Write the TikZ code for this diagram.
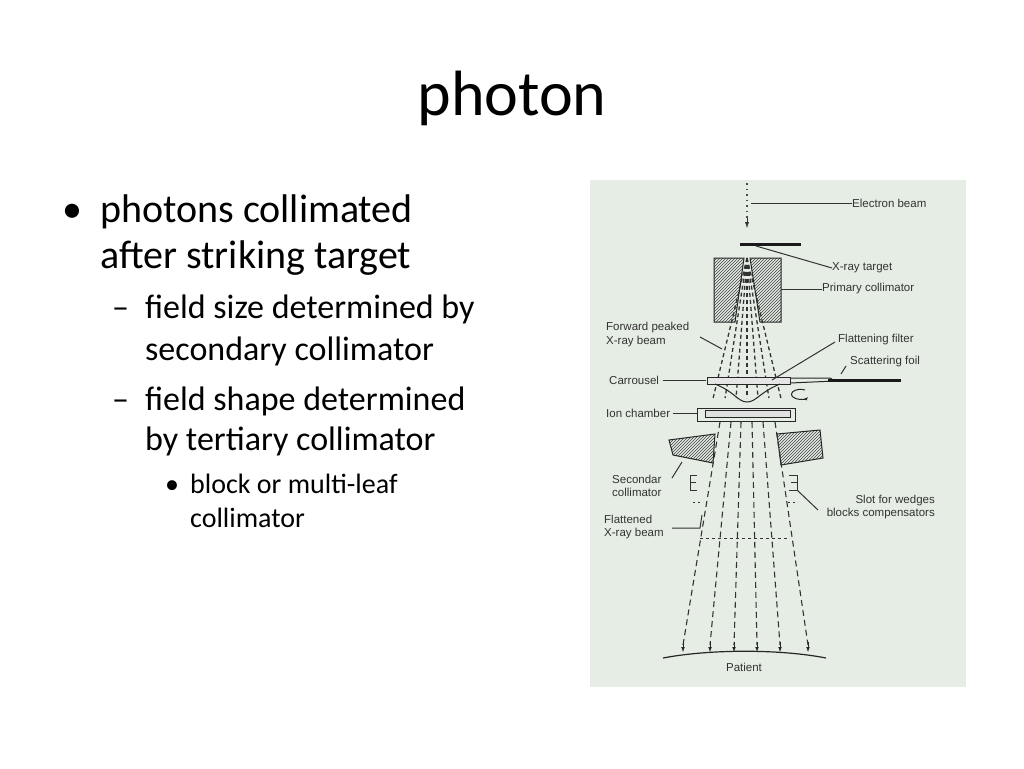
\documentclass[tikz,border=0pt]{standalone}
\usepackage{fontspec}
\setmainfont{Carlito}
\newfontfamily\lab{Liberation Sans}
\usetikzlibrary{patterns,arrows.meta}
\begin{document}
\begin{tikzpicture}[x=1pt,y=-1pt,
  txt/.style={anchor=base west,inner sep=0pt},
  lbl/.style={anchor=west,inner sep=0pt,font=\lab\fontsize{11.5}{13}\selectfont,text=black!80},
  lead/.style={draw=black!80,line width=1pt},
  hatch/.style={draw=black!85,line width=1pt,pattern=north east lines,pattern color=black!75},
  ray/.style={draw=black!80,line width=1.1pt,dash pattern=on 6pt off 4pt},
  tip/.style={-{Latex[length=5pt,width=3.5pt]}}]
\useasboundingbox (0,0) rectangle (1024,768);
\fill[white] (0,0) rectangle (1024,768);
% title
\node[inner sep=0pt,font=\fontsize{64}{70}\selectfont] (title) at (512,98) {photon};
% bullets
\node[txt,font=\fontsize{40}{44}\selectfont] (b0) at (62,222) {•};
\node[txt,font=\fontsize{40}{44}\selectfont] (b1) at (100,222) {photons collimated};
\node[txt,font=\fontsize{40}{44}\selectfont] (b2) at (100,268) {after striking target};
\node[txt,font=\fontsize{34}{38}\selectfont] (s0) at (112,318) {–};
\node[txt,font=\fontsize{34}{38}\selectfont] (s1) at (145,318) {field size determined by};
\node[txt,font=\fontsize{34}{38}\selectfont] (s2) at (145,360) {secondary collimator};
\node[txt,font=\fontsize{34}{38}\selectfont] (t0) at (112,410) {–};
\node[txt,font=\fontsize{34}{38}\selectfont] (t1) at (145,410) {field shape determined};
\node[txt,font=\fontsize{34}{38}\selectfont] (t2) at (145,450) {by tertiary collimator};
\node[txt,font=\fontsize{28}{32}\selectfont] (u0) at (165,493) {•};
\node[txt,font=\fontsize{28}{32}\selectfont] (u1) at (190,493) {block or multi-leaf};
\node[txt,font=\fontsize{28}{32}\selectfont] (u2) at (190,527) {collimator};
% panel
\fill[fill={rgb,255:red,229;green,237;blue,229}] (590,180) rectangle (966,687);
% electron beam
\draw[black!70,line width=1.2pt,dash pattern=on 1.5pt off 4pt] (747,183) -- (747,220);
\draw[black!80,-{Latex[length=6pt,width=4pt]}] (747,218) -- (747,228);
\coordinate (eb) at (751,203);
\node[lbl] (ebl) at (852,203) {Electron beam};
\draw[lead] (eb) -- (ebl.west);
% target
\draw[black!90,line width=3pt] (740,244) -- (801,244);
\coordinate (xt) at (756,246);
\node[lbl] (xtl) at (832,268) {X-ray target};
\draw[lead] (xt) -- (xtl.west);
% primary collimator
\path[hatch] (714,258) -- (744,258) -- (735,322) -- (714,322) -- cycle;
\path[hatch] (750,258) -- (781,258) -- (781,322) -- (760,322) -- cycle;
\coordinate (pc) at (781,289);
\node[lbl] (pcl) at (822,289) {Primary collimator};
\draw[lead] (pc) -- (pcl.west);
% cone of forward peaked rays
\foreach \a in {-14,-9,-4.5,0,4.5,9,14}{
  \draw[ray,line width=1.3pt,dash pattern=on 4pt off 3pt] (747,258) -- ++({-sin(\a)*140},140);
}
% forward peaked label
\node[lbl] (fp1) at (606,328) {Forward peaked};
\node[lbl] (fp2) at (606,342) {X-ray beam};
\coordinate (fp) at (722,349);
\draw[lead] (700,337) -- (fp);
% carrousel
\draw[black!85,line width=1pt,fill=black!10] (707,377) rectangle (790,384);
\draw[black!85,line width=1pt] (790,378) -- (830,378) -- (835,381) -- (790,383);
\draw[black!90,line width=3pt] (828,380) -- (901,380);
\draw[black!85,line width=1pt] (715,384) .. controls (735,392) and (738,402) .. (747,402) .. controls (756,402) and (760,392) .. (780,384);
\node[lbl] (car) at (609,380) {Carrousel};
\coordinate (cr) at (706,380);
\draw[lead] (car.east) ++(4,0) -- (cr);
\node[lbl] (ff) at (838,340) {Flattening filter};
\coordinate (ffp) at (772,380);
\draw[lead] (ff.west) ++(-3,2) -- (ffp);
\node[lbl] (sf) at (850,362) {Scattering foil};
\draw[lead] (sf.west) ++(-4,4) -- ++(-5,8);
% rotation arrow
\draw[black!85,line width=1pt,-{Latex[length=4pt,width=3pt]}] (805,390) arc (60:330:9pt and 5pt);
% ion chamber
\draw[black!85,line width=1pt] (697,408) rectangle (795,421);
\draw[black!85,line width=1pt,fill=black!12] (705,410) rectangle (790,417);
\node[lbl] (ic) at (606,413) {Ion chamber};
\coordinate (icp) at (697,413);
\draw[lead] (ic.east) ++(3,0) -- (icp);
% secondary collimator
\path[hatch] (669,440) -- (715,434) -- (713,463) -- (673,455) -- cycle;
\path[hatch] (777,434) -- (820,430) -- (823,458) -- (781,465) -- cycle;
\node[lbl,align=left] (sc) at (612,486) {Secondar\\collimator};
\coordinate (scp) at (682,462);
\draw[lead] (672,478) -- (scp);
% slots
\draw[black!80,line width=1pt] (697,475) -- (690,475) -- (690,490) -- (697,490) (690,482) -- (696,482);
\draw[black!80,line width=1pt] (789,475) -- (797,475) -- (797,490) -- (789,490) (797,482) -- (791,482);
\node[lbl,align=right,anchor=east] (sl) at (935,507) {Slot for wedges\\blocks compensators};
\coordinate (slp) at (797,490);
\draw[lead] (slp) -- (818,510);
% flattened beam
\node[lbl,align=left] (fb) at (604,527) {Flattened\\X-ray beam};
\coordinate (fbp) at (702,515);
\draw[lead] (672,528) -- (700,528) -- (fbp);
\draw[black!80,line width=1pt,dash pattern=on 3pt off 3pt] (700,538) -- (790,538);
\draw[black!80,line width=1pt,dash pattern=on 2pt off 3pt] (693,502) -- (703,502) (788,502) -- (798,502);
% flattened rays
\foreach \xt/\xb in {720/683,731/710,741/734,752/757,763/780,775/808}{
  \draw[ray] (\xt,422) -- (\xb,645);
  \draw[black!85,tip] (\xb,642) -- (\xb,652);
}
% patient
\draw[black!85,line width=1.2pt] (663,658) .. controls (710,649) and (780,649) .. (826,658);
\node[lbl,anchor=center] (pt) at (744,667) {Patient};
\end{tikzpicture}
\end{document}
